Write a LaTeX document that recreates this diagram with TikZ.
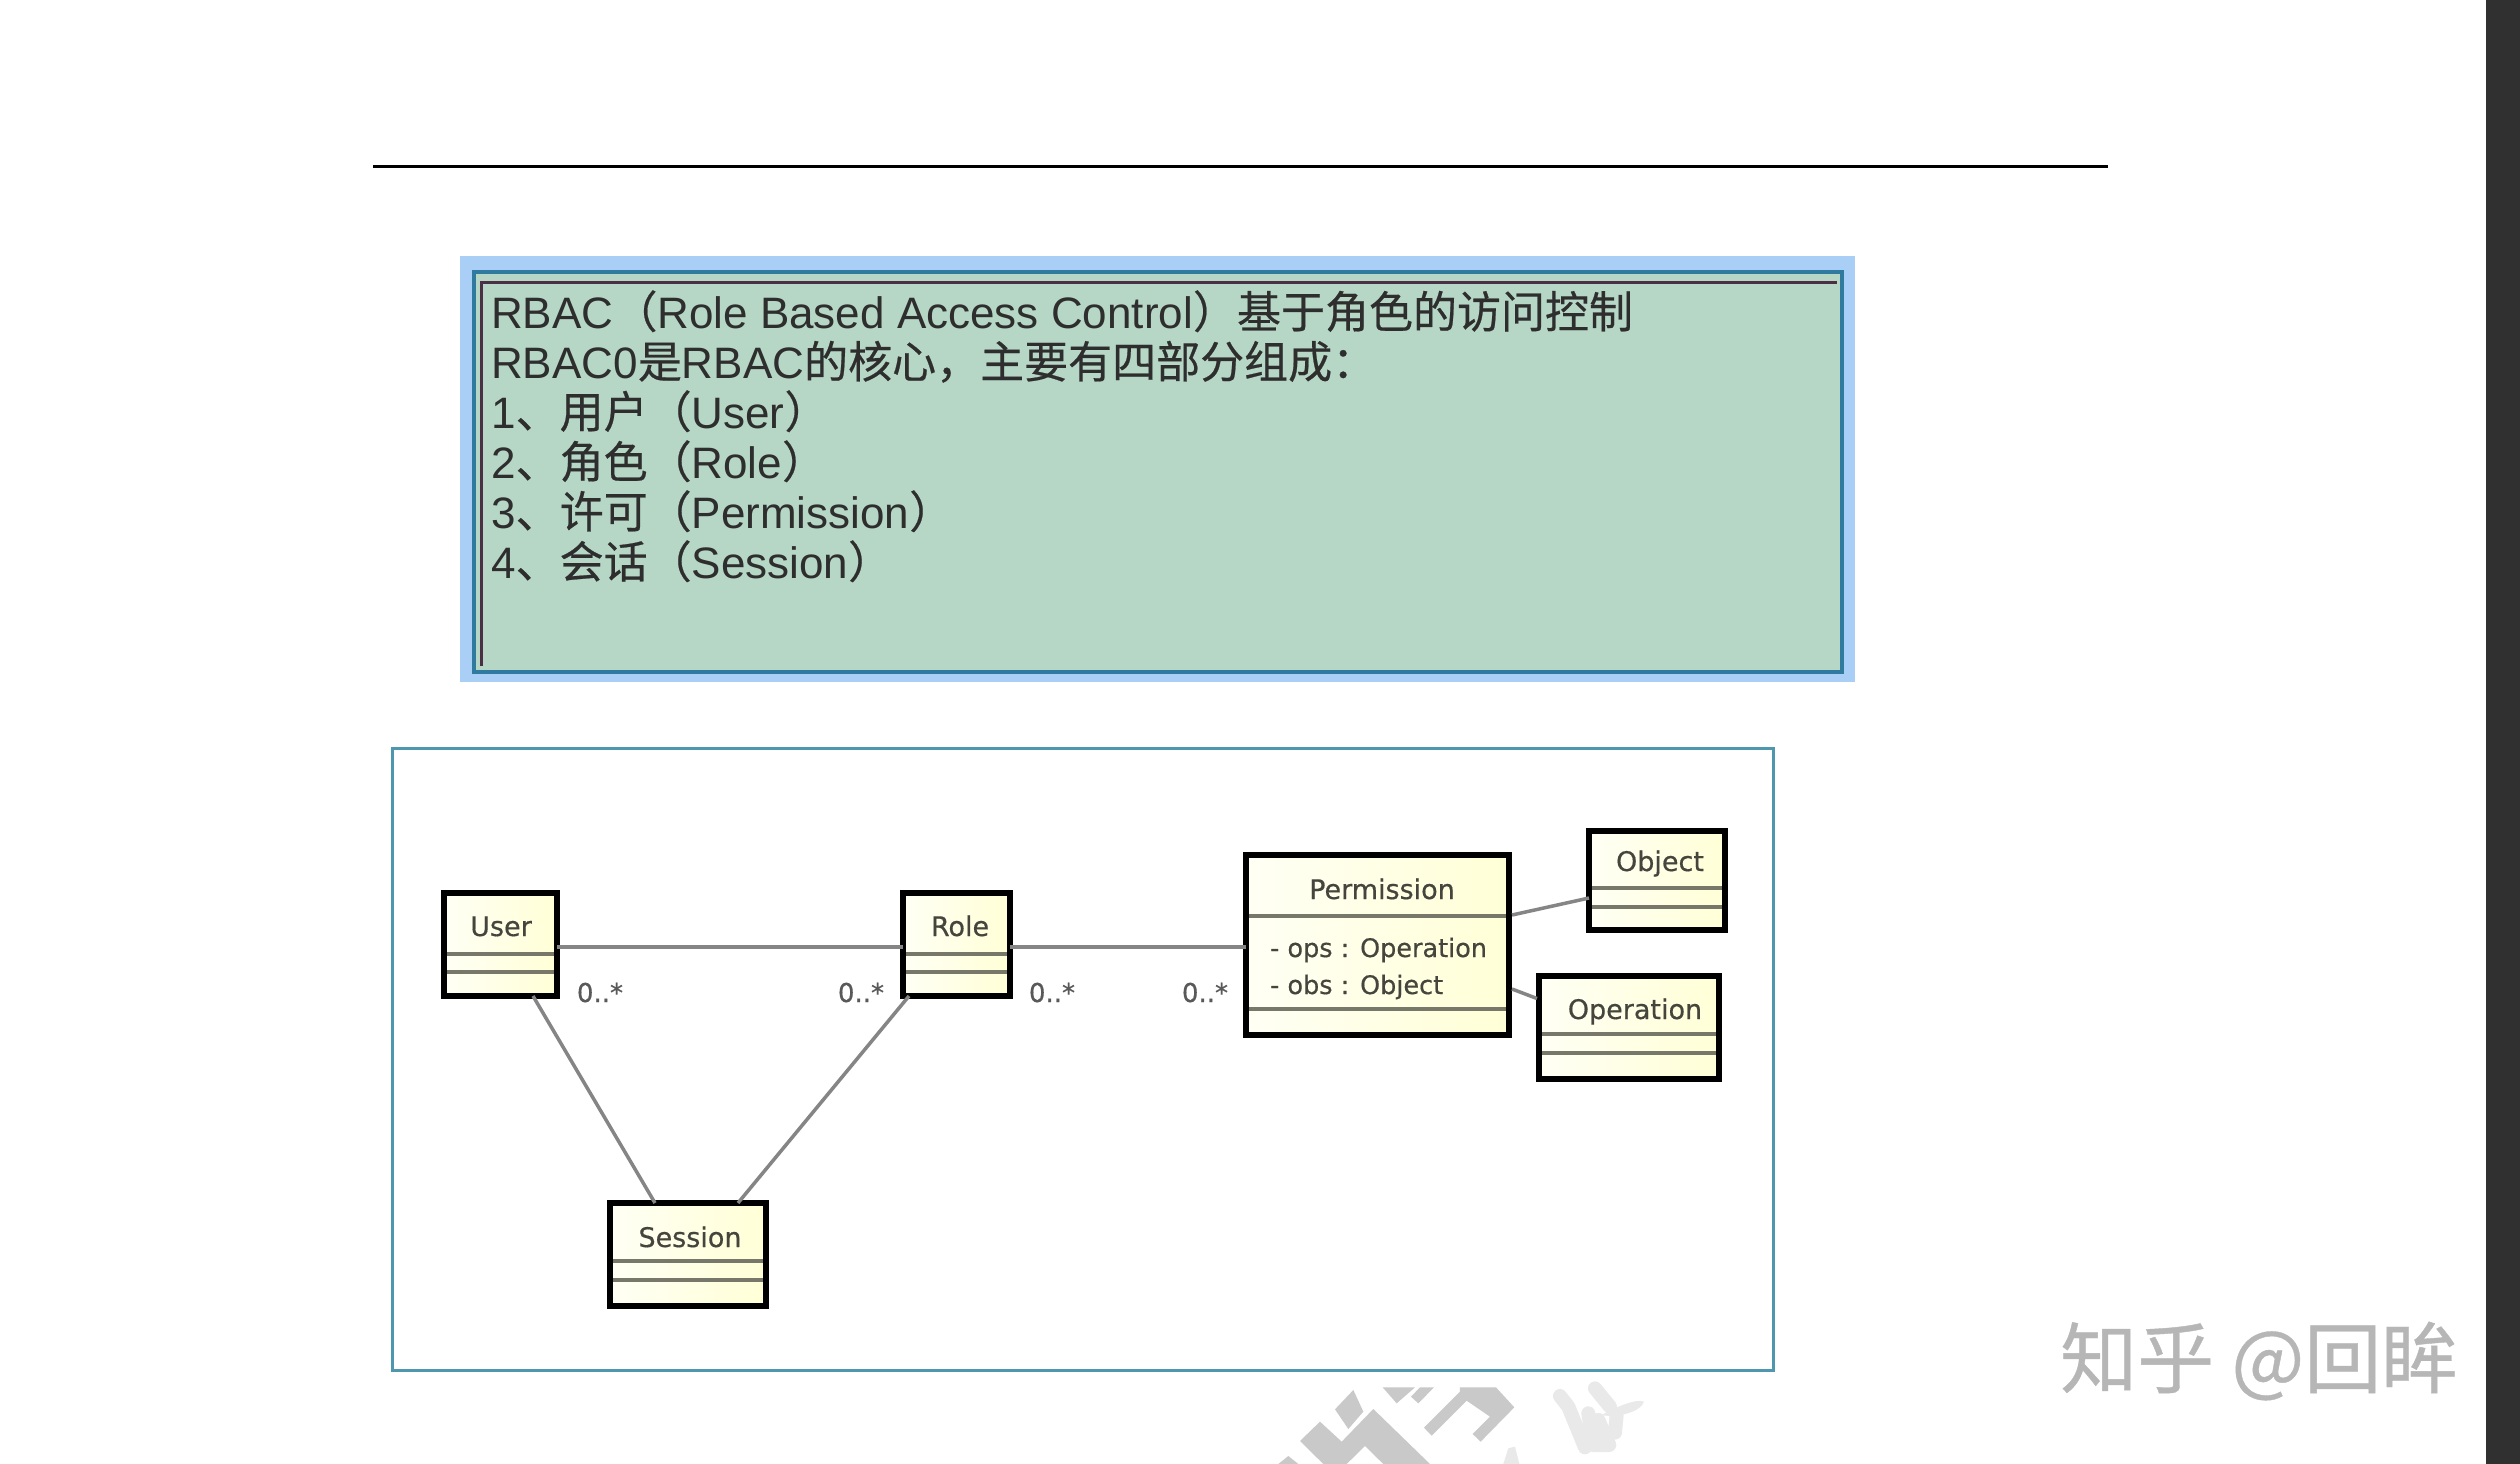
\documentclass[tikz,border=0pt]{standalone}
\usepackage{fontspec}
\usetikzlibrary{calc}
\setmainfont{Liberation Sans}
\newfontfamily\cjk[FakeBold=0.5]{Noto Sans CJK SC}
\newfontfamily\uml[FakeBold=0.5]{DejaVu Sans}
\definecolor{panelblue}{HTML}{A9CFF6}
\definecolor{panelgreen}{HTML}{B6D6C6}
\definecolor{frameblue}{HTML}{2F7A9E}
\definecolor{framedark}{HTML}{4A2F45}
\definecolor{diagframe}{HTML}{4F97AE}
\definecolor{connector}{HTML}{858585}
\definecolor{umlline}{HTML}{77776A}
\definecolor{umltext}{HTML}{45453D}
\definecolor{barcol}{HTML}{303030}
\definecolor{markgray}{HTML}{C9C9C9}
\definecolor{marklight}{HTML}{E9E9E9}
\definecolor{zhgray}{HTML}{B6B6B6}
\tikzset{
  umlbox/.style={draw=black,line width=6pt,left color=yellow!4!white,right color=yellow!16!white,outer sep=0pt,inner sep=0pt},
  umlsep/.style={draw=umlline,line width=3.5pt},
  umllabel/.style={font=\uml\fontsize{27}{30}\selectfont,text=umltext,anchor=base,inner sep=0pt},
  attrlabel/.style={font=\uml\fontsize{25.5}{30}\selectfont,text=umltext,anchor=base west,inner sep=0pt},
  multlabel/.style={font=\uml\fontsize{26}{30}\selectfont,text=black!65,anchor=base,inner sep=0pt},
  assoc/.style={draw=connector,line width=3.5pt},
  markshape/.style={fill=markgray,draw=none},
  markstroke/.style={draw=marklight,line width=14pt,line join=round,line cap=round}
}
% name, x1, y1, x2, y2, first sep y, second sep y
\newcommand{\umlclass}[7]{%
  \node[umlbox,minimum width={(#4-#2)*1pt},minimum height={(#5-#3)*1pt}] (#1) at ({(#2+#4)/2},{(#3+#5)/2}) {};
  \draw[umlsep] (#2+3,#6) -- (#4-3,#6);
  \draw[umlsep] (#2+3,#7) -- (#4-3,#7);
}
\begin{document}
\begin{tikzpicture}[x=1pt,y=-1pt]
\useasboundingbox (0,0) rectangle (2520,1464);
\fill[white] (0,0) rectangle (2520,1464);
% page bar and rule
\fill[barcol] (2486,0) rectangle (2520,1464);
\draw[black,line width=3pt] (373,166) -- (2108,166);
% text panel
\fill[panelblue] (460,256) rectangle (1855,682);
\fill[panelgreen] (474,272) rectangle (1842,672);
\draw[frameblue,line width=3.5pt] (474,272) rectangle (1842,672);
\draw[framedark,line width=3pt] (481,666) -- (481,282) -- (1837,282);
\node[anchor=base west,inner sep=0pt,text=black!82,font=\fontsize{44}{50}\selectfont,align=left] (intro) at (491,578) {%
RBAC{\cjk（}Role Based Access Control{\cjk）基于角色的访问控制}\\
RBAC0{\cjk 是}RBAC{\cjk 的核心，主要有四部分组成：}\\
1{\cjk 、用户（}User{\cjk ）}\\
2{\cjk 、角色（}Role{\cjk ）}\\
3{\cjk 、许可（}Permission{\cjk ）}\\
4{\cjk 、会话（}Session{\cjk ）}};
% diagram frame
\draw[diagframe,line width=3pt] (392,748) rectangle (1773,1370);
% classes
\umlclass{user}{444}{893}{557}{996}{954}{972}
\umlclass{role}{903}{893}{1010}{996}{954}{972}
\umlclass{session}{610}{1203}{766}{1306}{1261}{1280}
\umlclass{permission}{1246}{855}{1509}{1035}{916}{1009}
\umlclass{object}{1589}{831}{1725}{930}{888}{907}
\umlclass{operation}{1539}{976}{1719}{1079}{1034}{1053}
\node[umllabel] (tuser) at (501,936) {User};
\node[umllabel] (trole) at (960,936) {Role};
\node[umllabel] (tsession) at (690,1247) {Session};
\node[umllabel] (tperm) at (1382,899) {Permission};
\node[umllabel] (tobject) at (1660,871) {Object};
\node[umllabel] (toper) at (1635,1019) {Operation};
\node[attrlabel] (aops) at (1270,957) {- ops : Operation};
\node[attrlabel] (aobs) at (1270,994) {- obs : Object};
% connectors
\draw[assoc] ($(user.east)+(0,2.5)$) -- ($(role.west)+(0,2.5)$);
\draw[assoc] ($(role.east)+(0,2.5)$) -- ($(permission.west)+(0,2)$);
\draw[assoc] ($(user.south west)+(89,0)$) -- ($(session.north west)+(45,0)$);
\draw[assoc] ($(role.south west)+(6,0)$) -- ($(session.north west)+(128,0)$);
\draw[assoc] ($(permission.east)+(3,-30)$) -- ($(object.west)+(0,17.5)$);
\draw[assoc] ($(permission.east)+(3,44)$) -- ($(operation.west)+(-2,-29)$);
% multiplicities
\node[multlabel] (m1) at (600,1002) {0..*};
\node[multlabel] (m2) at (861,1002) {0..*};
\node[multlabel] (m3) at (1052,1002) {0..*};
\node[multlabel] (m4) at (1205,1002) {0..*};
% watermark
\node[anchor=base west,inner sep=0pt,text=zhgray,font=\cjk\fontsize{77}{77}\selectfont] (zh) at (2060,1387) {知乎 @回眸};
\begin{scope}[shift={(1240,1370)},x=0.3333pt,y=-0.3333pt]
\clip (0,0) rectangle (1320,282);
\fill[markshape] (180,213) -- (240,155) -- (305,215) -- (400,117) -- (570,282) -- (430,282) -- (375,228) -- (320,282) -- (250,282) -- cycle;
\fill[markshape] (115,282) -- (145,258) -- (175,282) -- cycle;
\fill[markshape] (340,60) -- (370,125) -- (325,177) -- (285,118) -- cycle;
\fill[markshape] (428,52) -- (525,52) -- (470,100) -- cycle;
\fill[markshape] (582,52) -- (535,100) -- (513,80) -- (540,52) -- cycle;
\fill[markshape] (660,52) -- (768,52) -- (823,112) -- (722,215) -- (698,192) -- (750,140) -- (680,92) -- (575,197) -- (552,173) -- (660,65) -- cycle;
\fill[marklight] (790,282) -- (805,235) -- (825,230) -- (838,282) -- cycle;
\draw[markstroke] (960,78) -- (985,110) -- (1035,232);
\draw[markstroke] (1065,55) -- (1110,110);
\draw[markstroke] (1045,130) -- (1060,225) -- (1108,225) -- (1075,150);
\draw[markstroke] (1130,135) -- (1125,188);
\fill[marklight] (1085,135) .. controls (1130,110) and (1190,85) .. (1212,95) .. controls (1205,125) and (1130,145) .. (1085,135) -- cycle;
\end{scope}
\end{tikzpicture}
\end{document}
